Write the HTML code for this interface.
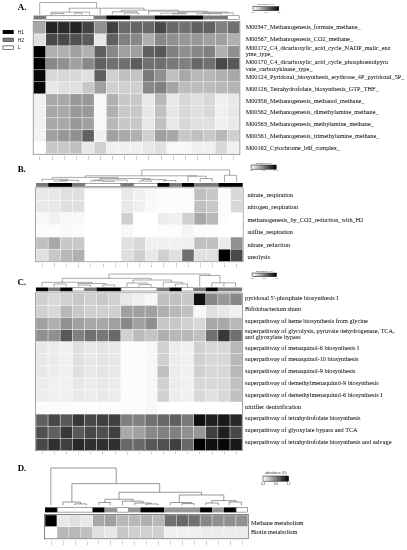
<!DOCTYPE html>
<html><head><meta charset="utf-8"><title>Figure</title>
<style>html,body{margin:0;padding:0;background:#fff}</style></head>
<body>
<svg width="407" height="550" viewBox="0 0 407 550" style="display:block">
<rect width="407" height="550" fill="#fff"/>
<rect x="33.20" y="21.40" width="206.67" height="132.80" fill="#fff" stroke="#505050" stroke-width="0.6"/>
<rect x="33.85" y="22.05" width="11.61" height="11.50" fill="#a8a8a8"/>
<rect x="45.96" y="22.05" width="11.61" height="11.50" fill="#242424"/>
<rect x="58.07" y="22.05" width="11.61" height="11.50" fill="#2c2c2c"/>
<rect x="70.18" y="22.05" width="11.61" height="11.50" fill="#242424"/>
<rect x="82.29" y="22.05" width="11.61" height="11.50" fill="#424242"/>
<rect x="94.40" y="22.05" width="11.61" height="11.50" fill="#909090"/>
<rect x="106.51" y="22.05" width="11.61" height="11.50" fill="#404040"/>
<rect x="118.62" y="22.05" width="11.61" height="11.50" fill="#6a6a6a"/>
<rect x="130.73" y="22.05" width="11.61" height="11.50" fill="#646464"/>
<rect x="142.84" y="22.05" width="11.61" height="11.50" fill="#686868"/>
<rect x="154.95" y="22.05" width="11.61" height="11.50" fill="#484848"/>
<rect x="167.06" y="22.05" width="11.61" height="11.50" fill="#686868"/>
<rect x="179.17" y="22.05" width="11.61" height="11.50" fill="#707070"/>
<rect x="191.28" y="22.05" width="11.61" height="11.50" fill="#606060"/>
<rect x="203.39" y="22.05" width="11.61" height="11.50" fill="#606060"/>
<rect x="215.50" y="22.05" width="11.61" height="11.50" fill="#808080"/>
<rect x="227.61" y="22.05" width="11.61" height="11.50" fill="#707070"/>
<rect x="33.85" y="34.05" width="11.61" height="11.50" fill="#e0e0e0"/>
<rect x="45.96" y="34.05" width="11.61" height="11.50" fill="#484848"/>
<rect x="58.07" y="34.05" width="11.61" height="11.50" fill="#484848"/>
<rect x="70.18" y="34.05" width="11.61" height="11.50" fill="#505050"/>
<rect x="82.29" y="34.05" width="11.61" height="11.50" fill="#5a5a5a"/>
<rect x="94.40" y="34.05" width="11.61" height="11.50" fill="#e8e8e8"/>
<rect x="106.51" y="34.05" width="11.61" height="11.50" fill="#606060"/>
<rect x="118.62" y="34.05" width="11.61" height="11.50" fill="#808080"/>
<rect x="130.73" y="34.05" width="11.61" height="11.50" fill="#888888"/>
<rect x="142.84" y="34.05" width="11.61" height="11.50" fill="#b0b0b0"/>
<rect x="154.95" y="34.05" width="11.61" height="11.50" fill="#888888"/>
<rect x="167.06" y="34.05" width="11.61" height="11.50" fill="#909090"/>
<rect x="179.17" y="34.05" width="11.61" height="11.50" fill="#989898"/>
<rect x="191.28" y="34.05" width="11.61" height="11.50" fill="#989898"/>
<rect x="203.39" y="34.05" width="11.61" height="11.50" fill="#a0a0a0"/>
<rect x="215.50" y="34.05" width="11.61" height="11.50" fill="#a0a0a0"/>
<rect x="227.61" y="34.05" width="11.61" height="11.50" fill="#b0b0b0"/>
<rect x="33.85" y="46.05" width="11.61" height="11.50" fill="#000000"/>
<rect x="45.96" y="46.05" width="11.61" height="11.50" fill="#b0b0b0"/>
<rect x="58.07" y="46.05" width="11.61" height="11.50" fill="#b0b0b0"/>
<rect x="70.18" y="46.05" width="11.61" height="11.50" fill="#a0a0a0"/>
<rect x="82.29" y="46.05" width="11.61" height="11.50" fill="#b0b0b0"/>
<rect x="94.40" y="46.05" width="11.61" height="11.50" fill="#606060"/>
<rect x="106.51" y="46.05" width="11.61" height="11.50" fill="#888888"/>
<rect x="118.62" y="46.05" width="11.61" height="11.50" fill="#a0a0a0"/>
<rect x="130.73" y="46.05" width="11.61" height="11.50" fill="#a0a0a0"/>
<rect x="142.84" y="46.05" width="11.61" height="11.50" fill="#606060"/>
<rect x="154.95" y="46.05" width="11.61" height="11.50" fill="#585858"/>
<rect x="167.06" y="46.05" width="11.61" height="11.50" fill="#808080"/>
<rect x="179.17" y="46.05" width="11.61" height="11.50" fill="#909090"/>
<rect x="191.28" y="46.05" width="11.61" height="11.50" fill="#888888"/>
<rect x="203.39" y="46.05" width="11.61" height="11.50" fill="#808080"/>
<rect x="215.50" y="46.05" width="11.61" height="11.50" fill="#b0b0b0"/>
<rect x="227.61" y="46.05" width="11.61" height="11.50" fill="#909090"/>
<rect x="33.85" y="58.05" width="11.61" height="11.50" fill="#000000"/>
<rect x="45.96" y="58.05" width="11.61" height="11.50" fill="#888888"/>
<rect x="58.07" y="58.05" width="11.61" height="11.50" fill="#909090"/>
<rect x="70.18" y="58.05" width="11.61" height="11.50" fill="#a0a0a0"/>
<rect x="82.29" y="58.05" width="11.61" height="11.50" fill="#888888"/>
<rect x="94.40" y="58.05" width="11.61" height="11.50" fill="#606060"/>
<rect x="106.51" y="58.05" width="11.61" height="11.50" fill="#707070"/>
<rect x="118.62" y="58.05" width="11.61" height="11.50" fill="#707070"/>
<rect x="130.73" y="58.05" width="11.61" height="11.50" fill="#5c5c5c"/>
<rect x="142.84" y="58.05" width="11.61" height="11.50" fill="#707070"/>
<rect x="154.95" y="58.05" width="11.61" height="11.50" fill="#707070"/>
<rect x="167.06" y="58.05" width="11.61" height="11.50" fill="#787878"/>
<rect x="179.17" y="58.05" width="11.61" height="11.50" fill="#808080"/>
<rect x="191.28" y="58.05" width="11.61" height="11.50" fill="#686868"/>
<rect x="203.39" y="58.05" width="11.61" height="11.50" fill="#707070"/>
<rect x="215.50" y="58.05" width="11.61" height="11.50" fill="#484848"/>
<rect x="227.61" y="58.05" width="11.61" height="11.50" fill="#585858"/>
<rect x="33.85" y="70.05" width="11.61" height="11.50" fill="#080808"/>
<rect x="45.96" y="70.05" width="11.61" height="11.50" fill="#d8d8d8"/>
<rect x="58.07" y="70.05" width="11.61" height="11.50" fill="#d8d8d8"/>
<rect x="70.18" y="70.05" width="11.61" height="11.50" fill="#d8d8d8"/>
<rect x="82.29" y="70.05" width="11.61" height="11.50" fill="#e0e0e0"/>
<rect x="94.40" y="70.05" width="11.61" height="11.50" fill="#606060"/>
<rect x="106.51" y="70.05" width="11.61" height="11.50" fill="#d0d0d0"/>
<rect x="118.62" y="70.05" width="11.61" height="11.50" fill="#c0c0c0"/>
<rect x="130.73" y="70.05" width="11.61" height="11.50" fill="#c4c4c4"/>
<rect x="142.84" y="70.05" width="11.61" height="11.50" fill="#787878"/>
<rect x="154.95" y="70.05" width="11.61" height="11.50" fill="#909090"/>
<rect x="167.06" y="70.05" width="11.61" height="11.50" fill="#c0c0c0"/>
<rect x="179.17" y="70.05" width="11.61" height="11.50" fill="#a8a8a8"/>
<rect x="191.28" y="70.05" width="11.61" height="11.50" fill="#b8b8b8"/>
<rect x="203.39" y="70.05" width="11.61" height="11.50" fill="#b8b8b8"/>
<rect x="215.50" y="70.05" width="11.61" height="11.50" fill="#b0b0b0"/>
<rect x="227.61" y="70.05" width="11.61" height="11.50" fill="#a8a8a8"/>
<rect x="33.85" y="82.05" width="11.61" height="11.50" fill="#080808"/>
<rect x="45.96" y="82.05" width="11.61" height="11.50" fill="#e8e8e8"/>
<rect x="58.07" y="82.05" width="11.61" height="11.50" fill="#e0e0e0"/>
<rect x="70.18" y="82.05" width="11.61" height="11.50" fill="#e0e0e0"/>
<rect x="82.29" y="82.05" width="11.61" height="11.50" fill="#c8c8c8"/>
<rect x="94.40" y="82.05" width="11.61" height="11.50" fill="#a0a0a0"/>
<rect x="106.51" y="82.05" width="11.61" height="11.50" fill="#d0d0d0"/>
<rect x="118.62" y="82.05" width="11.61" height="11.50" fill="#d0d0d0"/>
<rect x="130.73" y="82.05" width="11.61" height="11.50" fill="#d0d0d0"/>
<rect x="142.84" y="82.05" width="11.61" height="11.50" fill="#888888"/>
<rect x="154.95" y="82.05" width="11.61" height="11.50" fill="#808080"/>
<rect x="167.06" y="82.05" width="11.61" height="11.50" fill="#a4a4a4"/>
<rect x="179.17" y="82.05" width="11.61" height="11.50" fill="#bcbcbc"/>
<rect x="191.28" y="82.05" width="11.61" height="11.50" fill="#bcbcbc"/>
<rect x="203.39" y="82.05" width="11.61" height="11.50" fill="#bcbcbc"/>
<rect x="215.50" y="82.05" width="11.61" height="11.50" fill="#b8b8b8"/>
<rect x="227.61" y="82.05" width="11.61" height="11.50" fill="#b4b4b4"/>
<rect x="33.85" y="94.05" width="11.61" height="11.50" fill="#f0f0f0"/>
<rect x="45.96" y="94.05" width="11.61" height="11.50" fill="#a8a8a8"/>
<rect x="58.07" y="94.05" width="11.61" height="11.50" fill="#a8a8a8"/>
<rect x="70.18" y="94.05" width="11.61" height="11.50" fill="#989898"/>
<rect x="82.29" y="94.05" width="11.61" height="11.50" fill="#989898"/>
<rect x="94.40" y="94.05" width="11.61" height="11.50" fill="#f8f8f8"/>
<rect x="106.51" y="94.05" width="11.61" height="11.50" fill="#b0b0b0"/>
<rect x="118.62" y="94.05" width="11.61" height="11.50" fill="#c8c8c8"/>
<rect x="130.73" y="94.05" width="11.61" height="11.50" fill="#c8c8c8"/>
<rect x="142.84" y="94.05" width="11.61" height="11.50" fill="#e8e8e8"/>
<rect x="154.95" y="94.05" width="11.61" height="11.50" fill="#b8b8b8"/>
<rect x="167.06" y="94.05" width="11.61" height="11.50" fill="#e8e8e8"/>
<rect x="179.17" y="94.05" width="11.61" height="11.50" fill="#d8d8d8"/>
<rect x="191.28" y="94.05" width="11.61" height="11.50" fill="#e0e0e0"/>
<rect x="203.39" y="94.05" width="11.61" height="11.50" fill="#d8d8d8"/>
<rect x="215.50" y="94.05" width="11.61" height="11.50" fill="#f0f0f0"/>
<rect x="227.61" y="94.05" width="11.61" height="11.50" fill="#e8e8e8"/>
<rect x="33.85" y="106.05" width="11.61" height="11.50" fill="#f0f0f0"/>
<rect x="45.96" y="106.05" width="11.61" height="11.50" fill="#a8a8a8"/>
<rect x="58.07" y="106.05" width="11.61" height="11.50" fill="#a8a8a8"/>
<rect x="70.18" y="106.05" width="11.61" height="11.50" fill="#989898"/>
<rect x="82.29" y="106.05" width="11.61" height="11.50" fill="#989898"/>
<rect x="94.40" y="106.05" width="11.61" height="11.50" fill="#f8f8f8"/>
<rect x="106.51" y="106.05" width="11.61" height="11.50" fill="#b0b0b0"/>
<rect x="118.62" y="106.05" width="11.61" height="11.50" fill="#c8c8c8"/>
<rect x="130.73" y="106.05" width="11.61" height="11.50" fill="#c8c8c8"/>
<rect x="142.84" y="106.05" width="11.61" height="11.50" fill="#e8e8e8"/>
<rect x="154.95" y="106.05" width="11.61" height="11.50" fill="#c0c0c0"/>
<rect x="167.06" y="106.05" width="11.61" height="11.50" fill="#e8e8e8"/>
<rect x="179.17" y="106.05" width="11.61" height="11.50" fill="#d8d8d8"/>
<rect x="191.28" y="106.05" width="11.61" height="11.50" fill="#e0e0e0"/>
<rect x="203.39" y="106.05" width="11.61" height="11.50" fill="#d8d8d8"/>
<rect x="215.50" y="106.05" width="11.61" height="11.50" fill="#f0f0f0"/>
<rect x="227.61" y="106.05" width="11.61" height="11.50" fill="#e8e8e8"/>
<rect x="33.85" y="118.05" width="11.61" height="11.50" fill="#f0f0f0"/>
<rect x="45.96" y="118.05" width="11.61" height="11.50" fill="#a8a8a8"/>
<rect x="58.07" y="118.05" width="11.61" height="11.50" fill="#a8a8a8"/>
<rect x="70.18" y="118.05" width="11.61" height="11.50" fill="#989898"/>
<rect x="82.29" y="118.05" width="11.61" height="11.50" fill="#a0a0a0"/>
<rect x="94.40" y="118.05" width="11.61" height="11.50" fill="#f8f8f8"/>
<rect x="106.51" y="118.05" width="11.61" height="11.50" fill="#b8b8b8"/>
<rect x="118.62" y="118.05" width="11.61" height="11.50" fill="#c8c8c8"/>
<rect x="130.73" y="118.05" width="11.61" height="11.50" fill="#c8c8c8"/>
<rect x="142.84" y="118.05" width="11.61" height="11.50" fill="#e8e8e8"/>
<rect x="154.95" y="118.05" width="11.61" height="11.50" fill="#c0c0c0"/>
<rect x="167.06" y="118.05" width="11.61" height="11.50" fill="#e8e8e8"/>
<rect x="179.17" y="118.05" width="11.61" height="11.50" fill="#d8d8d8"/>
<rect x="191.28" y="118.05" width="11.61" height="11.50" fill="#e0e0e0"/>
<rect x="203.39" y="118.05" width="11.61" height="11.50" fill="#e0e0e0"/>
<rect x="215.50" y="118.05" width="11.61" height="11.50" fill="#f0f0f0"/>
<rect x="227.61" y="118.05" width="11.61" height="11.50" fill="#e8e8e8"/>
<rect x="33.85" y="130.05" width="11.61" height="11.50" fill="#f2f2f2"/>
<rect x="45.96" y="130.05" width="11.61" height="11.50" fill="#a0a0a0"/>
<rect x="58.07" y="130.05" width="11.61" height="11.50" fill="#989898"/>
<rect x="70.18" y="130.05" width="11.61" height="11.50" fill="#909090"/>
<rect x="82.29" y="130.05" width="11.61" height="11.50" fill="#606060"/>
<rect x="94.40" y="130.05" width="11.61" height="11.50" fill="#f0f0f0"/>
<rect x="106.51" y="130.05" width="11.61" height="11.50" fill="#a0a0a0"/>
<rect x="118.62" y="130.05" width="11.61" height="11.50" fill="#a8a8a8"/>
<rect x="130.73" y="130.05" width="11.61" height="11.50" fill="#b0b0b0"/>
<rect x="142.84" y="130.05" width="11.61" height="11.50" fill="#d0d0d0"/>
<rect x="154.95" y="130.05" width="11.61" height="11.50" fill="#a0a0a0"/>
<rect x="167.06" y="130.05" width="11.61" height="11.50" fill="#a8a8a8"/>
<rect x="179.17" y="130.05" width="11.61" height="11.50" fill="#c8c8c8"/>
<rect x="191.28" y="130.05" width="11.61" height="11.50" fill="#c0c0c0"/>
<rect x="203.39" y="130.05" width="11.61" height="11.50" fill="#c8c8c8"/>
<rect x="215.50" y="130.05" width="11.61" height="11.50" fill="#b8b8b8"/>
<rect x="227.61" y="130.05" width="11.61" height="11.50" fill="#d0d0d0"/>
<rect x="33.85" y="142.05" width="11.61" height="11.50" fill="#ffffff"/>
<rect x="45.96" y="142.05" width="11.61" height="11.50" fill="#c8c8c8"/>
<rect x="58.07" y="142.05" width="11.61" height="11.50" fill="#c8c8c8"/>
<rect x="70.18" y="142.05" width="11.61" height="11.50" fill="#c0c0c0"/>
<rect x="82.29" y="142.05" width="11.61" height="11.50" fill="#e8e8e8"/>
<rect x="94.40" y="142.05" width="11.61" height="11.50" fill="#d0d0d0"/>
<rect x="106.51" y="142.05" width="11.61" height="11.50" fill="#f0f0f0"/>
<rect x="118.62" y="142.05" width="11.61" height="11.50" fill="#f0f0f0"/>
<rect x="130.73" y="142.05" width="11.61" height="11.50" fill="#f0f0f0"/>
<rect x="142.84" y="142.05" width="11.61" height="11.50" fill="#e8e8e8"/>
<rect x="154.95" y="142.05" width="11.61" height="11.50" fill="#e0e0e0"/>
<rect x="167.06" y="142.05" width="11.61" height="11.50" fill="#f8f8f8"/>
<rect x="179.17" y="142.05" width="11.61" height="11.50" fill="#f8f8f8"/>
<rect x="191.28" y="142.05" width="11.61" height="11.50" fill="#f0f0f0"/>
<rect x="203.39" y="142.05" width="11.61" height="11.50" fill="#f0f0f0"/>
<rect x="215.50" y="142.05" width="11.61" height="11.50" fill="#d8d8d8"/>
<rect x="227.61" y="142.05" width="11.61" height="11.50" fill="#f0f0f0"/>
<rect x="33.60" y="15.50" width="12.11" height="4.00" fill="#787878"/>
<rect x="46.01" y="15.80" width="47.84" height="3.40" fill="#fff" stroke="#333" stroke-width="0.45"/>
<rect x="94.15" y="15.50" width="12.11" height="4.00" fill="#787878"/>
<rect x="106.26" y="15.50" width="24.22" height="4.00" fill="#000"/>
<rect x="130.48" y="15.50" width="24.22" height="4.00" fill="#787878"/>
<rect x="154.70" y="15.50" width="48.44" height="4.00" fill="#000"/>
<rect x="203.14" y="15.50" width="24.22" height="4.00" fill="#787878"/>
<rect x="227.66" y="15.80" width="11.51" height="3.40" fill="#fff" stroke="#333" stroke-width="0.45"/>
<text x="17.8" y="10" font-family="Liberation Serif, serif" font-weight="bold" font-size="8.9" fill="#000">A.</text>
<text x="245.7" y="29.30" font-family="Liberation Serif, serif" font-size="6.25" fill="#1a1a1a" stroke="#1a1a1a" stroke-width="0.05">M00347_Methanogenesis_formate_methane_</text>
<text x="245.7" y="40.80" font-family="Liberation Serif, serif" font-size="6.25" fill="#1a1a1a" stroke="#1a1a1a" stroke-width="0.05">M00567_Methanogenesis_CO2_methane_</text>
<text x="245.7" y="79.20" font-family="Liberation Serif, serif" font-size="6.25" fill="#1a1a1a" stroke="#1a1a1a" stroke-width="0.05">M00124_Pyridoxal_biosynthesis_erythrose_4P_pyridoxal_5P_</text>
<text x="245.7" y="90.70" font-family="Liberation Serif, serif" font-size="6.25" fill="#1a1a1a" stroke="#1a1a1a" stroke-width="0.05">M00126_Tetrahydrofolate_biosynthesis_GTP_THF_</text>
<text x="245.7" y="102.50" font-family="Liberation Serif, serif" font-size="6.25" fill="#1a1a1a" stroke="#1a1a1a" stroke-width="0.05">M00356_Methanogenesis_methanol_methane_</text>
<text x="245.7" y="114.40" font-family="Liberation Serif, serif" font-size="6.25" fill="#1a1a1a" stroke="#1a1a1a" stroke-width="0.05">M00562_Methanogenesis_dimethylamine_methane_</text>
<text x="245.7" y="126.20" font-family="Liberation Serif, serif" font-size="6.25" fill="#1a1a1a" stroke="#1a1a1a" stroke-width="0.05">M00563_Methanogenesis_methylamine_methane_</text>
<text x="245.7" y="138.00" font-family="Liberation Serif, serif" font-size="6.25" fill="#1a1a1a" stroke="#1a1a1a" stroke-width="0.05">M00561_Methanogenesis_trimethylamine_methane_</text>
<text x="245.7" y="149.80" font-family="Liberation Serif, serif" font-size="6.25" fill="#1a1a1a" stroke="#1a1a1a" stroke-width="0.05">M00162_Cytochrome_b6f_complex_</text>
<text x="245.7" y="49.60" font-family="Liberation Serif, serif" font-size="6.25" fill="#1a1a1a" stroke="#1a1a1a" stroke-width="0.05">M00172_C4_dicarboxylic_acid_cycle_NADP_malic_enz</text>
<text x="245.7" y="55.60" font-family="Liberation Serif, serif" font-size="6.25" fill="#1a1a1a" stroke="#1a1a1a" stroke-width="0.05">yme_type_</text>
<text x="245.7" y="63.80" font-family="Liberation Serif, serif" font-size="6.25" fill="#1a1a1a" stroke="#1a1a1a" stroke-width="0.05">M00170_C4_dicarboxylic_acid_cycle_phosphoenolpyru</text>
<text x="245.7" y="70.90" font-family="Liberation Serif, serif" font-size="6.25" fill="#1a1a1a" stroke="#1a1a1a" stroke-width="0.05">vate_carboxykinase_type_</text>
<rect x="2.7" y="30" width="11" height="4" fill="#000"/>
<rect x="3" y="38.1" width="10.4" height="3.4" fill="#808080" stroke="#222" stroke-width="0.6"/>
<rect x="3" y="45.9" width="10.4" height="3.4" fill="#fff" stroke="#222" stroke-width="0.6"/>
<text x="17.7" y="33.8" font-family="Liberation Sans, sans-serif" font-size="5" fill="#222">H1</text>
<text x="17.7" y="41.599999999999994" font-family="Liberation Sans, sans-serif" font-size="5" fill="#222">H2</text>
<text x="17.7" y="49.4" font-family="Liberation Sans, sans-serif" font-size="5" fill="#222">L</text>
<defs><linearGradient id="g6" x1="0" x2="1" y1="0" y2="0"><stop offset="0" stop-color="#fff"/><stop offset="1" stop-color="#000"/></linearGradient></defs>
<rect x="253" y="6.7" width="25.8" height="3.9" fill="url(#g6)" stroke="#111" stroke-width="0.5"/>
<text x="265.90" y="5.30" text-anchor="middle" font-family="Liberation Sans, sans-serif" font-size="2.5" fill="#333">abundance (%)</text>
<text x="253.00" y="12.70" text-anchor="middle" font-family="Liberation Sans, sans-serif" font-size="2.4" fill="#333">0.0</text>
<text x="265.90" y="12.70" text-anchor="middle" font-family="Liberation Sans, sans-serif" font-size="2.4" fill="#333">1.1</text>
<text x="278.80" y="12.70" text-anchor="middle" font-family="Liberation Sans, sans-serif" font-size="2.4" fill="#333">6.8</text>
<text transform="translate(40.41,155.60) rotate(-90)" text-anchor="end" font-family="Liberation Sans, sans-serif" font-size="2.3" fill="#707070">S01</text>
<text transform="translate(52.52,155.60) rotate(-90)" text-anchor="end" font-family="Liberation Sans, sans-serif" font-size="2.3" fill="#707070">S05</text>
<text transform="translate(64.62,155.60) rotate(-90)" text-anchor="end" font-family="Liberation Sans, sans-serif" font-size="2.3" fill="#707070">S06</text>
<text transform="translate(76.73,155.60) rotate(-90)" text-anchor="end" font-family="Liberation Sans, sans-serif" font-size="2.3" fill="#707070">S07</text>
<text transform="translate(88.84,155.60) rotate(-90)" text-anchor="end" font-family="Liberation Sans, sans-serif" font-size="2.3" fill="#707070">S08</text>
<text transform="translate(100.95,155.60) rotate(-90)" text-anchor="end" font-family="Liberation Sans, sans-serif" font-size="2.3" fill="#707070">S02</text>
<text transform="translate(113.06,155.60) rotate(-90)" text-anchor="end" font-family="Liberation Sans, sans-serif" font-size="2.3" fill="#707070">S11</text>
<text transform="translate(125.17,155.60) rotate(-90)" text-anchor="end" font-family="Liberation Sans, sans-serif" font-size="2.3" fill="#707070">S12</text>
<text transform="translate(137.28,155.60) rotate(-90)" text-anchor="end" font-family="Liberation Sans, sans-serif" font-size="2.3" fill="#707070">S03</text>
<text transform="translate(149.39,155.60) rotate(-90)" text-anchor="end" font-family="Liberation Sans, sans-serif" font-size="2.3" fill="#707070">S04</text>
<text transform="translate(161.50,155.60) rotate(-90)" text-anchor="end" font-family="Liberation Sans, sans-serif" font-size="2.3" fill="#707070">S13</text>
<text transform="translate(173.61,155.60) rotate(-90)" text-anchor="end" font-family="Liberation Sans, sans-serif" font-size="2.3" fill="#707070">S14</text>
<text transform="translate(185.72,155.60) rotate(-90)" text-anchor="end" font-family="Liberation Sans, sans-serif" font-size="2.3" fill="#707070">S15</text>
<text transform="translate(197.83,155.60) rotate(-90)" text-anchor="end" font-family="Liberation Sans, sans-serif" font-size="2.3" fill="#707070">S16</text>
<text transform="translate(209.94,155.60) rotate(-90)" text-anchor="end" font-family="Liberation Sans, sans-serif" font-size="2.3" fill="#707070">S09</text>
<text transform="translate(222.05,155.60) rotate(-90)" text-anchor="end" font-family="Liberation Sans, sans-serif" font-size="2.3" fill="#707070">S10</text>
<text transform="translate(234.16,155.60) rotate(-90)" text-anchor="end" font-family="Liberation Sans, sans-serif" font-size="2.3" fill="#707070">S17</text>
<path d="M39.7 14.7L39.7 2.5M39.7 2.5L96.6 2.5M96.6 2.5L96.6 8.2M69.3 8.2L144.0 8.2M69.3 8.2L69.3 12.2M51.0 12.2L89.5 12.2M51.0 12.2L51.0 14.7M89.5 12.2L89.5 14.7M51.8 13.6L63.9 13.6M51.8 13.6L51.8 14.7M63.9 13.6L63.9 14.7M75.0 13.0L82.0 13.0M75.0 13.0L75.0 14.7M82.0 13.0L82.0 14.7M100.2 8.4L100.2 14.7M144.0 8.2L144.0 10.2M121.4 10.2L178.0 10.2M121.4 10.2L121.4 11.8M112.3 11.8L137.0 11.8M112.3 11.8L112.3 14.7M137.0 11.8L137.0 13.0M124.4 13.0L138.5 13.0M124.4 13.0L124.4 14.7M138.5 13.0L138.5 14.7M178.0 10.2L178.0 11.2M148.6 11.2L207.0 11.2M148.6 11.2L148.6 14.7M207.0 11.2L207.0 12.1M178.0 12.1L228.0 12.1M178.0 12.1L178.0 13.1M160.8 13.1L187.0 13.1M160.8 13.1L160.8 14.7M187.0 13.1L187.0 13.8M172.9 13.8L185.0 13.8M172.9 13.8L172.9 14.7M185.0 13.8L185.0 14.7M228.0 12.1L228.0 12.9M203.1 12.9L233.4 12.9M233.4 12.9L233.4 14.7M203.1 12.9L203.1 13.6M197.1 13.6L221.3 13.6M197.1 13.6L197.1 14.7M221.3 13.6L221.3 14.7M209.2 13.9L209.2 14.7" stroke="#555" stroke-width="0.5" fill="none"/>
<rect x="35.60" y="187.90" width="207.52" height="73.88" fill="#fff" stroke="#6a6a6a" stroke-width="0.6"/>
<rect x="36.25" y="188.55" width="11.66" height="11.68" fill="#e8e8e8"/>
<rect x="48.41" y="188.55" width="11.66" height="11.68" fill="#e8e8e8"/>
<rect x="60.57" y="188.55" width="11.66" height="11.68" fill="#e0e0e0"/>
<rect x="72.73" y="188.55" width="11.66" height="11.68" fill="#e0e0e0"/>
<rect x="84.89" y="188.55" width="11.66" height="11.68" fill="#ffffff"/>
<rect x="97.05" y="188.55" width="11.66" height="11.68" fill="#ffffff"/>
<rect x="109.21" y="188.55" width="11.66" height="11.68" fill="#ffffff"/>
<rect x="121.37" y="188.55" width="11.66" height="11.68" fill="#e8e8e8"/>
<rect x="133.53" y="188.55" width="11.66" height="11.68" fill="#f0f0f0"/>
<rect x="145.69" y="188.55" width="11.66" height="11.68" fill="#f8f8f8"/>
<rect x="157.85" y="188.55" width="11.66" height="11.68" fill="#fcfcfc"/>
<rect x="170.01" y="188.55" width="11.66" height="11.68" fill="#fcfcfc"/>
<rect x="182.17" y="188.55" width="11.66" height="11.68" fill="#fcfcfc"/>
<rect x="194.33" y="188.55" width="11.66" height="11.68" fill="#c0c0c0"/>
<rect x="206.49" y="188.55" width="11.66" height="11.68" fill="#c8c8c8"/>
<rect x="218.65" y="188.55" width="11.66" height="11.68" fill="#fcfcfc"/>
<rect x="230.81" y="188.55" width="11.66" height="11.68" fill="#d8d8d8"/>
<rect x="36.25" y="200.73" width="11.66" height="11.68" fill="#e8e8e8"/>
<rect x="48.41" y="200.73" width="11.66" height="11.68" fill="#e8e8e8"/>
<rect x="60.57" y="200.73" width="11.66" height="11.68" fill="#e0e0e0"/>
<rect x="72.73" y="200.73" width="11.66" height="11.68" fill="#e0e0e0"/>
<rect x="84.89" y="200.73" width="11.66" height="11.68" fill="#ffffff"/>
<rect x="97.05" y="200.73" width="11.66" height="11.68" fill="#ffffff"/>
<rect x="109.21" y="200.73" width="11.66" height="11.68" fill="#ffffff"/>
<rect x="121.37" y="200.73" width="11.66" height="11.68" fill="#e8e8e8"/>
<rect x="133.53" y="200.73" width="11.66" height="11.68" fill="#f0f0f0"/>
<rect x="145.69" y="200.73" width="11.66" height="11.68" fill="#f8f8f8"/>
<rect x="157.85" y="200.73" width="11.66" height="11.68" fill="#fcfcfc"/>
<rect x="170.01" y="200.73" width="11.66" height="11.68" fill="#fcfcfc"/>
<rect x="182.17" y="200.73" width="11.66" height="11.68" fill="#fcfcfc"/>
<rect x="194.33" y="200.73" width="11.66" height="11.68" fill="#c0c0c0"/>
<rect x="206.49" y="200.73" width="11.66" height="11.68" fill="#c8c8c8"/>
<rect x="218.65" y="200.73" width="11.66" height="11.68" fill="#fcfcfc"/>
<rect x="230.81" y="200.73" width="11.66" height="11.68" fill="#d8d8d8"/>
<rect x="36.25" y="212.91" width="11.66" height="11.68" fill="#f8f8f8"/>
<rect x="48.41" y="212.91" width="11.66" height="11.68" fill="#f0f0f0"/>
<rect x="60.57" y="212.91" width="11.66" height="11.68" fill="#f8f8f8"/>
<rect x="72.73" y="212.91" width="11.66" height="11.68" fill="#f8f8f8"/>
<rect x="84.89" y="212.91" width="11.66" height="11.68" fill="#ffffff"/>
<rect x="97.05" y="212.91" width="11.66" height="11.68" fill="#ffffff"/>
<rect x="109.21" y="212.91" width="11.66" height="11.68" fill="#ffffff"/>
<rect x="121.37" y="212.91" width="11.66" height="11.68" fill="#d0d0d0"/>
<rect x="133.53" y="212.91" width="11.66" height="11.68" fill="#ffffff"/>
<rect x="145.69" y="212.91" width="11.66" height="11.68" fill="#ffffff"/>
<rect x="157.85" y="212.91" width="11.66" height="11.68" fill="#ececec"/>
<rect x="170.01" y="212.91" width="11.66" height="11.68" fill="#f0f0f0"/>
<rect x="182.17" y="212.91" width="11.66" height="11.68" fill="#d0d0d0"/>
<rect x="194.33" y="212.91" width="11.66" height="11.68" fill="#a8a8a8"/>
<rect x="206.49" y="212.91" width="11.66" height="11.68" fill="#b8b8b8"/>
<rect x="218.65" y="212.91" width="11.66" height="11.68" fill="#fcfcfc"/>
<rect x="230.81" y="212.91" width="11.66" height="11.68" fill="#ffffff"/>
<rect x="36.25" y="225.09" width="11.66" height="11.68" fill="#fcfcfc"/>
<rect x="48.41" y="225.09" width="11.66" height="11.68" fill="#fcfcfc"/>
<rect x="60.57" y="225.09" width="11.66" height="11.68" fill="#f8f8f8"/>
<rect x="72.73" y="225.09" width="11.66" height="11.68" fill="#fcfcfc"/>
<rect x="84.89" y="225.09" width="11.66" height="11.68" fill="#ffffff"/>
<rect x="97.05" y="225.09" width="11.66" height="11.68" fill="#ffffff"/>
<rect x="109.21" y="225.09" width="11.66" height="11.68" fill="#ffffff"/>
<rect x="121.37" y="225.09" width="11.66" height="11.68" fill="#f8f8f8"/>
<rect x="133.53" y="225.09" width="11.66" height="11.68" fill="#ffffff"/>
<rect x="145.69" y="225.09" width="11.66" height="11.68" fill="#ffffff"/>
<rect x="157.85" y="225.09" width="11.66" height="11.68" fill="#fcfcfc"/>
<rect x="170.01" y="225.09" width="11.66" height="11.68" fill="#fcfcfc"/>
<rect x="182.17" y="225.09" width="11.66" height="11.68" fill="#f4f4f4"/>
<rect x="194.33" y="225.09" width="11.66" height="11.68" fill="#fcfcfc"/>
<rect x="206.49" y="225.09" width="11.66" height="11.68" fill="#fcfcfc"/>
<rect x="218.65" y="225.09" width="11.66" height="11.68" fill="#ffffff"/>
<rect x="230.81" y="225.09" width="11.66" height="11.68" fill="#ffffff"/>
<rect x="36.25" y="237.27" width="11.66" height="11.68" fill="#c0c0c0"/>
<rect x="48.41" y="237.27" width="11.66" height="11.68" fill="#a8a8a8"/>
<rect x="60.57" y="237.27" width="11.66" height="11.68" fill="#c8c8c8"/>
<rect x="72.73" y="237.27" width="11.66" height="11.68" fill="#c8c8c8"/>
<rect x="84.89" y="237.27" width="11.66" height="11.68" fill="#ffffff"/>
<rect x="97.05" y="237.27" width="11.66" height="11.68" fill="#ffffff"/>
<rect x="109.21" y="237.27" width="11.66" height="11.68" fill="#ffffff"/>
<rect x="121.37" y="237.27" width="11.66" height="11.68" fill="#e0e0e0"/>
<rect x="133.53" y="237.27" width="11.66" height="11.68" fill="#d8d8d8"/>
<rect x="145.69" y="237.27" width="11.66" height="11.68" fill="#f0f0f0"/>
<rect x="157.85" y="237.27" width="11.66" height="11.68" fill="#f0f0f0"/>
<rect x="170.01" y="237.27" width="11.66" height="11.68" fill="#f0f0f0"/>
<rect x="182.17" y="237.27" width="11.66" height="11.68" fill="#f0f0f0"/>
<rect x="194.33" y="237.27" width="11.66" height="11.68" fill="#c0c0c0"/>
<rect x="206.49" y="237.27" width="11.66" height="11.68" fill="#c0c0c0"/>
<rect x="218.65" y="237.27" width="11.66" height="11.68" fill="#ececec"/>
<rect x="230.81" y="237.27" width="11.66" height="11.68" fill="#909090"/>
<rect x="36.25" y="249.45" width="11.66" height="11.68" fill="#e0e0e0"/>
<rect x="48.41" y="249.45" width="11.66" height="11.68" fill="#c8c8c8"/>
<rect x="60.57" y="249.45" width="11.66" height="11.68" fill="#b8b8b8"/>
<rect x="72.73" y="249.45" width="11.66" height="11.68" fill="#b0b0b0"/>
<rect x="84.89" y="249.45" width="11.66" height="11.68" fill="#ffffff"/>
<rect x="97.05" y="249.45" width="11.66" height="11.68" fill="#ffffff"/>
<rect x="109.21" y="249.45" width="11.66" height="11.68" fill="#ffffff"/>
<rect x="121.37" y="249.45" width="11.66" height="11.68" fill="#e0e0e0"/>
<rect x="133.53" y="249.45" width="11.66" height="11.68" fill="#d0d0d0"/>
<rect x="145.69" y="249.45" width="11.66" height="11.68" fill="#e8e8e8"/>
<rect x="157.85" y="249.45" width="11.66" height="11.68" fill="#d0d0d0"/>
<rect x="170.01" y="249.45" width="11.66" height="11.68" fill="#e0e0e0"/>
<rect x="182.17" y="249.45" width="11.66" height="11.68" fill="#707070"/>
<rect x="194.33" y="249.45" width="11.66" height="11.68" fill="#e0e0e0"/>
<rect x="206.49" y="249.45" width="11.66" height="11.68" fill="#e0e0e0"/>
<rect x="218.65" y="249.45" width="11.66" height="11.68" fill="#000000"/>
<rect x="230.81" y="249.45" width="11.66" height="11.68" fill="#484848"/>
<rect x="36.00" y="183.00" width="12.16" height="3.80" fill="#787878"/>
<rect x="48.16" y="183.00" width="24.32" height="3.80" fill="#000"/>
<rect x="72.48" y="183.00" width="12.16" height="3.80" fill="#787878"/>
<rect x="84.94" y="183.30" width="35.88" height="3.20" fill="#fff" stroke="#333" stroke-width="0.45"/>
<rect x="121.12" y="183.00" width="12.16" height="3.80" fill="#787878"/>
<rect x="133.58" y="183.30" width="23.72" height="3.20" fill="#fff" stroke="#333" stroke-width="0.45"/>
<rect x="157.60" y="183.00" width="12.16" height="3.80" fill="#000"/>
<rect x="169.76" y="183.00" width="12.16" height="3.80" fill="#787878"/>
<rect x="181.92" y="183.00" width="12.16" height="3.80" fill="#000"/>
<rect x="194.08" y="183.00" width="24.32" height="3.80" fill="#787878"/>
<rect x="218.40" y="183.00" width="24.32" height="3.80" fill="#000"/>
<text x="17.7" y="171.7" font-family="Liberation Serif, serif" font-weight="bold" font-size="8.9" fill="#000">B.</text>
<text x="247.4" y="196.70" font-family="Liberation Serif, serif" font-size="6.25" fill="#1a1a1a" stroke="#1a1a1a" stroke-width="0.05">nitrate_respiration</text>
<text x="247.4" y="209.00" font-family="Liberation Serif, serif" font-size="6.25" fill="#1a1a1a" stroke="#1a1a1a" stroke-width="0.05">nitrogen_respiration</text>
<text x="247.4" y="221.50" font-family="Liberation Serif, serif" font-size="6.25" fill="#1a1a1a" stroke="#1a1a1a" stroke-width="0.05">methanogenesis_by_CO2_reduction_with_H2</text>
<text x="247.4" y="234.00" font-family="Liberation Serif, serif" font-size="6.25" fill="#1a1a1a" stroke="#1a1a1a" stroke-width="0.05">sulfite_respiration</text>
<text x="247.4" y="246.60" font-family="Liberation Serif, serif" font-size="6.25" fill="#1a1a1a" stroke="#1a1a1a" stroke-width="0.05">nitrate_reduction</text>
<text x="247.4" y="259.10" font-family="Liberation Serif, serif" font-size="6.25" fill="#1a1a1a" stroke="#1a1a1a" stroke-width="0.05">ureolysis</text>
<defs><linearGradient id="g165" x1="0" x2="1" y1="0" y2="0"><stop offset="0" stop-color="#fff"/><stop offset="1" stop-color="#000"/></linearGradient></defs>
<rect x="251.1" y="165" width="25.1" height="4.2" fill="url(#g165)" stroke="#111" stroke-width="0.5"/>
<text x="263.65" y="163.60" text-anchor="middle" font-family="Liberation Sans, sans-serif" font-size="2.5" fill="#333">abundance (%)</text>
<text x="251.10" y="171.30" text-anchor="middle" font-family="Liberation Sans, sans-serif" font-size="2.4" fill="#333">0.0</text>
<text x="263.65" y="171.30" text-anchor="middle" font-family="Liberation Sans, sans-serif" font-size="2.4" fill="#333">1.1</text>
<text x="276.20" y="171.30" text-anchor="middle" font-family="Liberation Sans, sans-serif" font-size="2.4" fill="#333">14.0</text>
<text transform="translate(42.83,263.10) rotate(-90)" text-anchor="end" font-family="Liberation Sans, sans-serif" font-size="2.3" fill="#707070">S09</text>
<text transform="translate(54.99,263.10) rotate(-90)" text-anchor="end" font-family="Liberation Sans, sans-serif" font-size="2.3" fill="#707070">S11</text>
<text transform="translate(67.15,263.10) rotate(-90)" text-anchor="end" font-family="Liberation Sans, sans-serif" font-size="2.3" fill="#707070">S12</text>
<text transform="translate(79.31,263.10) rotate(-90)" text-anchor="end" font-family="Liberation Sans, sans-serif" font-size="2.3" fill="#707070">S10</text>
<text transform="translate(91.47,263.10) rotate(-90)" text-anchor="end" font-family="Liberation Sans, sans-serif" font-size="2.3" fill="#707070">S05</text>
<text transform="translate(103.63,263.10) rotate(-90)" text-anchor="end" font-family="Liberation Sans, sans-serif" font-size="2.3" fill="#707070">S06</text>
<text transform="translate(115.79,263.10) rotate(-90)" text-anchor="end" font-family="Liberation Sans, sans-serif" font-size="2.3" fill="#707070">S07</text>
<text transform="translate(127.95,263.10) rotate(-90)" text-anchor="end" font-family="Liberation Sans, sans-serif" font-size="2.3" fill="#707070">S02</text>
<text transform="translate(140.11,263.10) rotate(-90)" text-anchor="end" font-family="Liberation Sans, sans-serif" font-size="2.3" fill="#707070">S08</text>
<text transform="translate(152.27,263.10) rotate(-90)" text-anchor="end" font-family="Liberation Sans, sans-serif" font-size="2.3" fill="#707070">S17</text>
<text transform="translate(164.43,263.10) rotate(-90)" text-anchor="end" font-family="Liberation Sans, sans-serif" font-size="2.3" fill="#707070">S13</text>
<text transform="translate(176.59,263.10) rotate(-90)" text-anchor="end" font-family="Liberation Sans, sans-serif" font-size="2.3" fill="#707070">S03</text>
<text transform="translate(188.75,263.10) rotate(-90)" text-anchor="end" font-family="Liberation Sans, sans-serif" font-size="2.3" fill="#707070">S14</text>
<text transform="translate(200.91,263.10) rotate(-90)" text-anchor="end" font-family="Liberation Sans, sans-serif" font-size="2.3" fill="#707070">S04</text>
<text transform="translate(213.07,263.10) rotate(-90)" text-anchor="end" font-family="Liberation Sans, sans-serif" font-size="2.3" fill="#707070">S01</text>
<text transform="translate(225.23,263.10) rotate(-90)" text-anchor="end" font-family="Liberation Sans, sans-serif" font-size="2.3" fill="#707070">S15</text>
<text transform="translate(237.39,263.10) rotate(-90)" text-anchor="end" font-family="Liberation Sans, sans-serif" font-size="2.3" fill="#707070">S16</text>
<path d="M141.8 169.9L229.6 169.9M141.8 169.9L141.8 175.8M229.6 169.9L229.6 175.3M224.5 175.3L236.6 175.3M224.5 175.3L224.5 182.0M236.6 175.3L236.6 182.0M85.4 175.8L197.0 175.8M85.4 175.8L85.4 177.4M197.0 175.8L197.0 176.2M188.0 176.2L206.0 176.2M188.0 176.2L188.0 182.0M206.0 176.2L206.0 178.5M200.2 178.5L212.3 178.5M200.2 178.5L200.2 182.0M212.3 178.5L212.3 182.0M52.4 177.4L118.0 177.4M52.4 177.4L52.4 179.3M118.0 177.4L118.0 178.5M42.1 179.3L68.0 179.3M42.1 179.3L42.1 182.0M68.0 179.3L68.0 180.3M60.0 180.3L78.6 180.3M78.6 180.3L78.6 182.0M60.0 180.3L60.0 181.1M54.2 181.1L66.4 181.1M54.2 181.1L54.2 182.0M66.4 181.1L66.4 182.0M100.0 178.5L150.0 178.5M100.0 178.5L100.0 180.0M150.0 178.5L150.0 179.6M94.0 180.0L127.2 180.0M127.2 180.0L127.2 182.0M94.0 180.0L94.0 180.8M90.7 180.8L103.0 180.8M90.7 180.8L90.7 182.0M103.0 180.8L103.0 181.4M102.9 181.4L115.0 181.4M142.0 179.6L166.0 179.6M142.0 179.6L142.0 181.0M139.4 181.0L151.5 181.0M139.4 181.0L139.4 182.0M151.5 181.0L151.5 182.0M166.0 179.6L166.0 180.6M163.7 180.6L175.8 180.6M163.7 180.6L163.7 182.0M175.8 180.6L175.8 182.0" stroke="#555" stroke-width="0.5" fill="none"/>
<rect x="35.50" y="292.90" width="207.01" height="157.84" fill="#fff" stroke="#6a6a6a" stroke-width="0.6"/>
<rect x="36.15" y="293.55" width="11.63" height="11.58" fill="#d0d0d0"/>
<rect x="48.28" y="293.55" width="11.63" height="11.58" fill="#d8d8d8"/>
<rect x="60.41" y="293.55" width="11.63" height="11.58" fill="#d0d0d0"/>
<rect x="72.54" y="293.55" width="11.63" height="11.58" fill="#c8c8c8"/>
<rect x="84.67" y="293.55" width="11.63" height="11.58" fill="#d0d0d0"/>
<rect x="96.80" y="293.55" width="11.63" height="11.58" fill="#c8c8c8"/>
<rect x="108.93" y="293.55" width="11.63" height="11.58" fill="#d0d0d0"/>
<rect x="121.06" y="293.55" width="11.63" height="11.58" fill="#e8e8e8"/>
<rect x="133.19" y="293.55" width="11.63" height="11.58" fill="#f0f0f0"/>
<rect x="145.32" y="293.55" width="11.63" height="11.58" fill="#f8f8f8"/>
<rect x="157.45" y="293.55" width="11.63" height="11.58" fill="#c0c0c0"/>
<rect x="169.58" y="293.55" width="11.63" height="11.58" fill="#c0c0c0"/>
<rect x="181.71" y="293.55" width="11.63" height="11.58" fill="#c8c8c8"/>
<rect x="193.84" y="293.55" width="11.63" height="11.58" fill="#101010"/>
<rect x="205.97" y="293.55" width="11.63" height="11.58" fill="#888888"/>
<rect x="218.10" y="293.55" width="11.63" height="11.58" fill="#989898"/>
<rect x="230.23" y="293.55" width="11.63" height="11.58" fill="#888888"/>
<rect x="36.15" y="305.63" width="11.63" height="11.58" fill="#d0d0d0"/>
<rect x="48.28" y="305.63" width="11.63" height="11.58" fill="#d8d8d8"/>
<rect x="60.41" y="305.63" width="11.63" height="11.58" fill="#b8b8b8"/>
<rect x="72.54" y="305.63" width="11.63" height="11.58" fill="#c8c8c8"/>
<rect x="84.67" y="305.63" width="11.63" height="11.58" fill="#d0d0d0"/>
<rect x="96.80" y="305.63" width="11.63" height="11.58" fill="#d0d0d0"/>
<rect x="108.93" y="305.63" width="11.63" height="11.58" fill="#d0d0d0"/>
<rect x="121.06" y="305.63" width="11.63" height="11.58" fill="#a0a0a0"/>
<rect x="133.19" y="305.63" width="11.63" height="11.58" fill="#a0a0a0"/>
<rect x="145.32" y="305.63" width="11.63" height="11.58" fill="#a0a0a0"/>
<rect x="157.45" y="305.63" width="11.63" height="11.58" fill="#b0b0b0"/>
<rect x="169.58" y="305.63" width="11.63" height="11.58" fill="#b8b8b8"/>
<rect x="181.71" y="305.63" width="11.63" height="11.58" fill="#c0c0c0"/>
<rect x="193.84" y="305.63" width="11.63" height="11.58" fill="#f8f8f8"/>
<rect x="205.97" y="305.63" width="11.63" height="11.58" fill="#e0e0e0"/>
<rect x="218.10" y="305.63" width="11.63" height="11.58" fill="#e8e8e8"/>
<rect x="230.23" y="305.63" width="11.63" height="11.58" fill="#f0f0f0"/>
<rect x="36.15" y="317.71" width="11.63" height="11.58" fill="#a0a0a0"/>
<rect x="48.28" y="317.71" width="11.63" height="11.58" fill="#b0b0b0"/>
<rect x="60.41" y="317.71" width="11.63" height="11.58" fill="#909090"/>
<rect x="72.54" y="317.71" width="11.63" height="11.58" fill="#a0a0a0"/>
<rect x="84.67" y="317.71" width="11.63" height="11.58" fill="#a8a8a8"/>
<rect x="96.80" y="317.71" width="11.63" height="11.58" fill="#a8a8a8"/>
<rect x="108.93" y="317.71" width="11.63" height="11.58" fill="#a0a0a0"/>
<rect x="121.06" y="317.71" width="11.63" height="11.58" fill="#888888"/>
<rect x="133.19" y="317.71" width="11.63" height="11.58" fill="#a0a0a0"/>
<rect x="145.32" y="317.71" width="11.63" height="11.58" fill="#909090"/>
<rect x="157.45" y="317.71" width="11.63" height="11.58" fill="#c8c8c8"/>
<rect x="169.58" y="317.71" width="11.63" height="11.58" fill="#c8c8c8"/>
<rect x="181.71" y="317.71" width="11.63" height="11.58" fill="#d0d0d0"/>
<rect x="193.84" y="317.71" width="11.63" height="11.58" fill="#d8d8d8"/>
<rect x="205.97" y="317.71" width="11.63" height="11.58" fill="#a8a8a8"/>
<rect x="218.10" y="317.71" width="11.63" height="11.58" fill="#a8a8a8"/>
<rect x="230.23" y="317.71" width="11.63" height="11.58" fill="#b8b8b8"/>
<rect x="36.15" y="329.79" width="11.63" height="11.58" fill="#909090"/>
<rect x="48.28" y="329.79" width="11.63" height="11.58" fill="#909090"/>
<rect x="60.41" y="329.79" width="11.63" height="11.58" fill="#585858"/>
<rect x="72.54" y="329.79" width="11.63" height="11.58" fill="#808080"/>
<rect x="84.67" y="329.79" width="11.63" height="11.58" fill="#707070"/>
<rect x="96.80" y="329.79" width="11.63" height="11.58" fill="#787878"/>
<rect x="108.93" y="329.79" width="11.63" height="11.58" fill="#686868"/>
<rect x="121.06" y="329.79" width="11.63" height="11.58" fill="#d0d0d0"/>
<rect x="133.19" y="329.79" width="11.63" height="11.58" fill="#bcbcbc"/>
<rect x="145.32" y="329.79" width="11.63" height="11.58" fill="#c4c4c4"/>
<rect x="157.45" y="329.79" width="11.63" height="11.58" fill="#b0b0b0"/>
<rect x="169.58" y="329.79" width="11.63" height="11.58" fill="#b8b8b8"/>
<rect x="181.71" y="329.79" width="11.63" height="11.58" fill="#b8b8b8"/>
<rect x="193.84" y="329.79" width="11.63" height="11.58" fill="#c0c0c0"/>
<rect x="205.97" y="329.79" width="11.63" height="11.58" fill="#707070"/>
<rect x="218.10" y="329.79" width="11.63" height="11.58" fill="#383838"/>
<rect x="230.23" y="329.79" width="11.63" height="11.58" fill="#707070"/>
<rect x="36.15" y="341.87" width="11.63" height="11.58" fill="#e8e8e8"/>
<rect x="48.28" y="341.87" width="11.63" height="11.58" fill="#ececec"/>
<rect x="60.41" y="341.87" width="11.63" height="11.58" fill="#f0f0f0"/>
<rect x="72.54" y="341.87" width="11.63" height="11.58" fill="#e0e0e0"/>
<rect x="84.67" y="341.87" width="11.63" height="11.58" fill="#e8e8e8"/>
<rect x="96.80" y="341.87" width="11.63" height="11.58" fill="#e4e4e4"/>
<rect x="108.93" y="341.87" width="11.63" height="11.58" fill="#e8e8e8"/>
<rect x="121.06" y="341.87" width="11.63" height="11.58" fill="#fcfcfc"/>
<rect x="133.19" y="341.87" width="11.63" height="11.58" fill="#fcfcfc"/>
<rect x="145.32" y="341.87" width="11.63" height="11.58" fill="#f8f8f8"/>
<rect x="157.45" y="341.87" width="11.63" height="11.58" fill="#d0d0d0"/>
<rect x="169.58" y="341.87" width="11.63" height="11.58" fill="#ececec"/>
<rect x="181.71" y="341.87" width="11.63" height="11.58" fill="#f0f0f0"/>
<rect x="193.84" y="341.87" width="11.63" height="11.58" fill="#d0d0d0"/>
<rect x="205.97" y="341.87" width="11.63" height="11.58" fill="#d8d8d8"/>
<rect x="218.10" y="341.87" width="11.63" height="11.58" fill="#d8d8d8"/>
<rect x="230.23" y="341.87" width="11.63" height="11.58" fill="#b8b8b8"/>
<rect x="36.15" y="353.95" width="11.63" height="11.58" fill="#e8e8e8"/>
<rect x="48.28" y="353.95" width="11.63" height="11.58" fill="#ececec"/>
<rect x="60.41" y="353.95" width="11.63" height="11.58" fill="#f0f0f0"/>
<rect x="72.54" y="353.95" width="11.63" height="11.58" fill="#e0e0e0"/>
<rect x="84.67" y="353.95" width="11.63" height="11.58" fill="#e8e8e8"/>
<rect x="96.80" y="353.95" width="11.63" height="11.58" fill="#e4e4e4"/>
<rect x="108.93" y="353.95" width="11.63" height="11.58" fill="#e8e8e8"/>
<rect x="121.06" y="353.95" width="11.63" height="11.58" fill="#fcfcfc"/>
<rect x="133.19" y="353.95" width="11.63" height="11.58" fill="#fcfcfc"/>
<rect x="145.32" y="353.95" width="11.63" height="11.58" fill="#f8f8f8"/>
<rect x="157.45" y="353.95" width="11.63" height="11.58" fill="#d0d0d0"/>
<rect x="169.58" y="353.95" width="11.63" height="11.58" fill="#ececec"/>
<rect x="181.71" y="353.95" width="11.63" height="11.58" fill="#f0f0f0"/>
<rect x="193.84" y="353.95" width="11.63" height="11.58" fill="#d0d0d0"/>
<rect x="205.97" y="353.95" width="11.63" height="11.58" fill="#d8d8d8"/>
<rect x="218.10" y="353.95" width="11.63" height="11.58" fill="#d8d8d8"/>
<rect x="230.23" y="353.95" width="11.63" height="11.58" fill="#b8b8b8"/>
<rect x="36.15" y="366.03" width="11.63" height="11.58" fill="#e8e8e8"/>
<rect x="48.28" y="366.03" width="11.63" height="11.58" fill="#ececec"/>
<rect x="60.41" y="366.03" width="11.63" height="11.58" fill="#f0f0f0"/>
<rect x="72.54" y="366.03" width="11.63" height="11.58" fill="#e0e0e0"/>
<rect x="84.67" y="366.03" width="11.63" height="11.58" fill="#e8e8e8"/>
<rect x="96.80" y="366.03" width="11.63" height="11.58" fill="#e4e4e4"/>
<rect x="108.93" y="366.03" width="11.63" height="11.58" fill="#e8e8e8"/>
<rect x="121.06" y="366.03" width="11.63" height="11.58" fill="#fcfcfc"/>
<rect x="133.19" y="366.03" width="11.63" height="11.58" fill="#fcfcfc"/>
<rect x="145.32" y="366.03" width="11.63" height="11.58" fill="#f8f8f8"/>
<rect x="157.45" y="366.03" width="11.63" height="11.58" fill="#c0c0c0"/>
<rect x="169.58" y="366.03" width="11.63" height="11.58" fill="#ececec"/>
<rect x="181.71" y="366.03" width="11.63" height="11.58" fill="#f0f0f0"/>
<rect x="193.84" y="366.03" width="11.63" height="11.58" fill="#d0d0d0"/>
<rect x="205.97" y="366.03" width="11.63" height="11.58" fill="#d8d8d8"/>
<rect x="218.10" y="366.03" width="11.63" height="11.58" fill="#d8d8d8"/>
<rect x="230.23" y="366.03" width="11.63" height="11.58" fill="#b8b8b8"/>
<rect x="36.15" y="378.11" width="11.63" height="11.58" fill="#ececec"/>
<rect x="48.28" y="378.11" width="11.63" height="11.58" fill="#f0f0f0"/>
<rect x="60.41" y="378.11" width="11.63" height="11.58" fill="#f0f0f0"/>
<rect x="72.54" y="378.11" width="11.63" height="11.58" fill="#e8e8e8"/>
<rect x="84.67" y="378.11" width="11.63" height="11.58" fill="#ececec"/>
<rect x="96.80" y="378.11" width="11.63" height="11.58" fill="#e8e8e8"/>
<rect x="108.93" y="378.11" width="11.63" height="11.58" fill="#ececec"/>
<rect x="121.06" y="378.11" width="11.63" height="11.58" fill="#fcfcfc"/>
<rect x="133.19" y="378.11" width="11.63" height="11.58" fill="#fcfcfc"/>
<rect x="145.32" y="378.11" width="11.63" height="11.58" fill="#f8f8f8"/>
<rect x="157.45" y="378.11" width="11.63" height="11.58" fill="#d0d0d0"/>
<rect x="169.58" y="378.11" width="11.63" height="11.58" fill="#ececec"/>
<rect x="181.71" y="378.11" width="11.63" height="11.58" fill="#f0f0f0"/>
<rect x="193.84" y="378.11" width="11.63" height="11.58" fill="#d8d8d8"/>
<rect x="205.97" y="378.11" width="11.63" height="11.58" fill="#d8d8d8"/>
<rect x="218.10" y="378.11" width="11.63" height="11.58" fill="#d8d8d8"/>
<rect x="230.23" y="378.11" width="11.63" height="11.58" fill="#c0c0c0"/>
<rect x="36.15" y="390.19" width="11.63" height="11.58" fill="#ececec"/>
<rect x="48.28" y="390.19" width="11.63" height="11.58" fill="#f0f0f0"/>
<rect x="60.41" y="390.19" width="11.63" height="11.58" fill="#f0f0f0"/>
<rect x="72.54" y="390.19" width="11.63" height="11.58" fill="#e8e8e8"/>
<rect x="84.67" y="390.19" width="11.63" height="11.58" fill="#ececec"/>
<rect x="96.80" y="390.19" width="11.63" height="11.58" fill="#e8e8e8"/>
<rect x="108.93" y="390.19" width="11.63" height="11.58" fill="#ececec"/>
<rect x="121.06" y="390.19" width="11.63" height="11.58" fill="#fcfcfc"/>
<rect x="133.19" y="390.19" width="11.63" height="11.58" fill="#fcfcfc"/>
<rect x="145.32" y="390.19" width="11.63" height="11.58" fill="#f8f8f8"/>
<rect x="157.45" y="390.19" width="11.63" height="11.58" fill="#d0d0d0"/>
<rect x="169.58" y="390.19" width="11.63" height="11.58" fill="#ececec"/>
<rect x="181.71" y="390.19" width="11.63" height="11.58" fill="#f0f0f0"/>
<rect x="193.84" y="390.19" width="11.63" height="11.58" fill="#d8d8d8"/>
<rect x="205.97" y="390.19" width="11.63" height="11.58" fill="#e0e0e0"/>
<rect x="218.10" y="390.19" width="11.63" height="11.58" fill="#d8d8d8"/>
<rect x="230.23" y="390.19" width="11.63" height="11.58" fill="#c0c0c0"/>
<rect x="36.15" y="402.27" width="11.63" height="11.58" fill="#fcfcfc"/>
<rect x="48.28" y="402.27" width="11.63" height="11.58" fill="#fcfcfc"/>
<rect x="60.41" y="402.27" width="11.63" height="11.58" fill="#fcfcfc"/>
<rect x="72.54" y="402.27" width="11.63" height="11.58" fill="#fcfcfc"/>
<rect x="84.67" y="402.27" width="11.63" height="11.58" fill="#fcfcfc"/>
<rect x="96.80" y="402.27" width="11.63" height="11.58" fill="#fcfcfc"/>
<rect x="108.93" y="402.27" width="11.63" height="11.58" fill="#fcfcfc"/>
<rect x="121.06" y="402.27" width="11.63" height="11.58" fill="#fcfcfc"/>
<rect x="133.19" y="402.27" width="11.63" height="11.58" fill="#fcfcfc"/>
<rect x="145.32" y="402.27" width="11.63" height="11.58" fill="#f8f8f8"/>
<rect x="157.45" y="402.27" width="11.63" height="11.58" fill="#ffffff"/>
<rect x="169.58" y="402.27" width="11.63" height="11.58" fill="#ffffff"/>
<rect x="181.71" y="402.27" width="11.63" height="11.58" fill="#ffffff"/>
<rect x="193.84" y="402.27" width="11.63" height="11.58" fill="#ffffff"/>
<rect x="205.97" y="402.27" width="11.63" height="11.58" fill="#ffffff"/>
<rect x="218.10" y="402.27" width="11.63" height="11.58" fill="#ffffff"/>
<rect x="230.23" y="402.27" width="11.63" height="11.58" fill="#ffffff"/>
<rect x="36.15" y="414.35" width="11.63" height="11.58" fill="#606060"/>
<rect x="48.28" y="414.35" width="11.63" height="11.58" fill="#484848"/>
<rect x="60.41" y="414.35" width="11.63" height="11.58" fill="#585858"/>
<rect x="72.54" y="414.35" width="11.63" height="11.58" fill="#383838"/>
<rect x="84.67" y="414.35" width="11.63" height="11.58" fill="#484848"/>
<rect x="96.80" y="414.35" width="11.63" height="11.58" fill="#404040"/>
<rect x="108.93" y="414.35" width="11.63" height="11.58" fill="#404040"/>
<rect x="121.06" y="414.35" width="11.63" height="11.58" fill="#808080"/>
<rect x="133.19" y="414.35" width="11.63" height="11.58" fill="#808080"/>
<rect x="145.32" y="414.35" width="11.63" height="11.58" fill="#707070"/>
<rect x="157.45" y="414.35" width="11.63" height="11.58" fill="#686868"/>
<rect x="169.58" y="414.35" width="11.63" height="11.58" fill="#606060"/>
<rect x="181.71" y="414.35" width="11.63" height="11.58" fill="#787878"/>
<rect x="193.84" y="414.35" width="11.63" height="11.58" fill="#101010"/>
<rect x="205.97" y="414.35" width="11.63" height="11.58" fill="#202020"/>
<rect x="218.10" y="414.35" width="11.63" height="11.58" fill="#181818"/>
<rect x="230.23" y="414.35" width="11.63" height="11.58" fill="#282828"/>
<rect x="36.15" y="426.43" width="11.63" height="11.58" fill="#505050"/>
<rect x="48.28" y="426.43" width="11.63" height="11.58" fill="#606060"/>
<rect x="60.41" y="426.43" width="11.63" height="11.58" fill="#383838"/>
<rect x="72.54" y="426.43" width="11.63" height="11.58" fill="#585858"/>
<rect x="84.67" y="426.43" width="11.63" height="11.58" fill="#484848"/>
<rect x="96.80" y="426.43" width="11.63" height="11.58" fill="#505050"/>
<rect x="108.93" y="426.43" width="11.63" height="11.58" fill="#404040"/>
<rect x="121.06" y="426.43" width="11.63" height="11.58" fill="#a8a8a8"/>
<rect x="133.19" y="426.43" width="11.63" height="11.58" fill="#a0a0a0"/>
<rect x="145.32" y="426.43" width="11.63" height="11.58" fill="#888888"/>
<rect x="157.45" y="426.43" width="11.63" height="11.58" fill="#808080"/>
<rect x="169.58" y="426.43" width="11.63" height="11.58" fill="#808080"/>
<rect x="181.71" y="426.43" width="11.63" height="11.58" fill="#909090"/>
<rect x="193.84" y="426.43" width="11.63" height="11.58" fill="#989898"/>
<rect x="205.97" y="426.43" width="11.63" height="11.58" fill="#404040"/>
<rect x="218.10" y="426.43" width="11.63" height="11.58" fill="#202020"/>
<rect x="230.23" y="426.43" width="11.63" height="11.58" fill="#484848"/>
<rect x="36.15" y="438.51" width="11.63" height="11.58" fill="#484848"/>
<rect x="48.28" y="438.51" width="11.63" height="11.58" fill="#303030"/>
<rect x="60.41" y="438.51" width="11.63" height="11.58" fill="#404040"/>
<rect x="72.54" y="438.51" width="11.63" height="11.58" fill="#282828"/>
<rect x="84.67" y="438.51" width="11.63" height="11.58" fill="#303030"/>
<rect x="96.80" y="438.51" width="11.63" height="11.58" fill="#303030"/>
<rect x="108.93" y="438.51" width="11.63" height="11.58" fill="#303030"/>
<rect x="121.06" y="438.51" width="11.63" height="11.58" fill="#686868"/>
<rect x="133.19" y="438.51" width="11.63" height="11.58" fill="#686868"/>
<rect x="145.32" y="438.51" width="11.63" height="11.58" fill="#585858"/>
<rect x="157.45" y="438.51" width="11.63" height="11.58" fill="#505050"/>
<rect x="169.58" y="438.51" width="11.63" height="11.58" fill="#404040"/>
<rect x="181.71" y="438.51" width="11.63" height="11.58" fill="#686868"/>
<rect x="193.84" y="438.51" width="11.63" height="11.58" fill="#000000"/>
<rect x="205.97" y="438.51" width="11.63" height="11.58" fill="#101010"/>
<rect x="218.10" y="438.51" width="11.63" height="11.58" fill="#080808"/>
<rect x="230.23" y="438.51" width="11.63" height="11.58" fill="#181818"/>
<rect x="35.90" y="287.50" width="12.13" height="3.80" fill="#000"/>
<rect x="48.03" y="287.50" width="12.13" height="3.80" fill="#787878"/>
<rect x="60.16" y="287.50" width="12.13" height="3.80" fill="#000"/>
<rect x="72.59" y="287.80" width="11.53" height="3.20" fill="#fff" stroke="#333" stroke-width="0.45"/>
<rect x="84.42" y="287.50" width="12.13" height="3.80" fill="#787878"/>
<rect x="96.55" y="287.50" width="24.26" height="3.80" fill="#000"/>
<rect x="121.11" y="287.80" width="35.79" height="3.20" fill="#fff" stroke="#333" stroke-width="0.45"/>
<rect x="157.20" y="287.50" width="12.13" height="3.80" fill="#787878"/>
<rect x="169.33" y="287.50" width="12.13" height="3.80" fill="#000"/>
<rect x="181.76" y="287.80" width="11.53" height="3.20" fill="#fff" stroke="#333" stroke-width="0.45"/>
<rect x="193.59" y="287.50" width="12.13" height="3.80" fill="#787878"/>
<rect x="205.72" y="287.50" width="12.13" height="3.80" fill="#000"/>
<rect x="217.85" y="287.50" width="24.26" height="3.80" fill="#787878"/>
<text x="17.5" y="285.4" font-family="Liberation Serif, serif" font-weight="bold" font-size="8.9" fill="#000">C.</text>
<text x="245.1" y="300.20" font-family="Liberation Serif, serif" font-size="6.25" fill="#1a1a1a" stroke="#1a1a1a" stroke-width="0.05">pyridoxal 5'-phosphate biosynthesis I</text>
<text x="245.1" y="311.10" font-family="Liberation Serif, serif" font-size="6.25" fill="#1a1a1a" stroke="#1a1a1a" stroke-width="0.05">Bifidobacterium shunt</text>
<text x="245.1" y="323.00" font-family="Liberation Serif, serif" font-size="6.25" fill="#1a1a1a" stroke="#1a1a1a" stroke-width="0.05">superpathway of heme biosynthesis from glycine</text>
<text x="245.1" y="350.10" font-family="Liberation Serif, serif" font-size="6.25" fill="#1a1a1a" stroke="#1a1a1a" stroke-width="0.05">superpathway of menaquinol-6 biosynthesis I</text>
<text x="245.1" y="361.10" font-family="Liberation Serif, serif" font-size="6.25" fill="#1a1a1a" stroke="#1a1a1a" stroke-width="0.05">superpathway of menaquinol-10 biosynthesis</text>
<text x="245.1" y="373.20" font-family="Liberation Serif, serif" font-size="6.25" fill="#1a1a1a" stroke="#1a1a1a" stroke-width="0.05">superpathway of menaquinol-9 biosynthesis</text>
<text x="245.1" y="385.00" font-family="Liberation Serif, serif" font-size="6.25" fill="#1a1a1a" stroke="#1a1a1a" stroke-width="0.05">superpathway of demethylmenaquinol-9 biosynthesis</text>
<text x="245.1" y="396.80" font-family="Liberation Serif, serif" font-size="6.25" fill="#1a1a1a" stroke="#1a1a1a" stroke-width="0.05">superpathway of demethylmenaquinol-6 biosynthesis I</text>
<text x="245.1" y="408.80" font-family="Liberation Serif, serif" font-size="6.25" fill="#1a1a1a" stroke="#1a1a1a" stroke-width="0.05">nitrifier denitrification</text>
<text x="245.1" y="419.70" font-family="Liberation Serif, serif" font-size="6.25" fill="#1a1a1a" stroke="#1a1a1a" stroke-width="0.05">superpathway of tetrahydrofolate biosynthesis</text>
<text x="245.1" y="431.80" font-family="Liberation Serif, serif" font-size="6.25" fill="#1a1a1a" stroke="#1a1a1a" stroke-width="0.05">superpathway of glyoxylate bypass and TCA</text>
<text x="245.1" y="443.70" font-family="Liberation Serif, serif" font-size="6.25" fill="#1a1a1a" stroke="#1a1a1a" stroke-width="0.05">superpathway of tetrahydrofolate biosynthesis and salvage</text>
<text x="245.1" y="332.60" font-family="Liberation Serif, serif" font-size="6.25" fill="#1a1a1a" stroke="#1a1a1a" stroke-width="0.05">superpathway of glycolysis, pyruvate dehydrogenase, TCA,</text>
<text x="245.1" y="339.20" font-family="Liberation Serif, serif" font-size="6.25" fill="#1a1a1a" stroke="#1a1a1a" stroke-width="0.05">and glyoxylate bypass</text>
<defs><linearGradient id="g273" x1="0" x2="1" y1="0" y2="0"><stop offset="0" stop-color="#fff"/><stop offset="1" stop-color="#000"/></linearGradient></defs>
<rect x="252.1" y="273" width="24.5" height="3.7" fill="url(#g273)" stroke="#111" stroke-width="0.5"/>
<text x="264.35" y="271.60" text-anchor="middle" font-family="Liberation Sans, sans-serif" font-size="2.5" fill="#333">abundance (%)</text>
<text x="252.10" y="278.80" text-anchor="middle" font-family="Liberation Sans, sans-serif" font-size="2.4" fill="#333">0.0</text>
<text x="264.35" y="278.80" text-anchor="middle" font-family="Liberation Sans, sans-serif" font-size="2.4" fill="#333">1.1</text>
<text x="276.60" y="278.80" text-anchor="middle" font-family="Liberation Sans, sans-serif" font-size="2.4" fill="#333">4.9</text>
<text transform="translate(42.71,452.00) rotate(-90)" text-anchor="end" font-family="Liberation Sans, sans-serif" font-size="2.3" fill="#707070">11</text>
<text transform="translate(54.84,452.00) rotate(-90)" text-anchor="end" font-family="Liberation Sans, sans-serif" font-size="2.3" fill="#707070">09</text>
<text transform="translate(66.97,452.00) rotate(-90)" text-anchor="end" font-family="Liberation Sans, sans-serif" font-size="2.3" fill="#707070">12</text>
<text transform="translate(79.11,452.00) rotate(-90)" text-anchor="end" font-family="Liberation Sans, sans-serif" font-size="2.3" fill="#707070">05</text>
<text transform="translate(91.23,452.00) rotate(-90)" text-anchor="end" font-family="Liberation Sans, sans-serif" font-size="2.3" fill="#707070">10</text>
<text transform="translate(103.37,452.00) rotate(-90)" text-anchor="end" font-family="Liberation Sans, sans-serif" font-size="2.3" fill="#707070">13</text>
<text transform="translate(115.50,452.00) rotate(-90)" text-anchor="end" font-family="Liberation Sans, sans-serif" font-size="2.3" fill="#707070">14</text>
<text transform="translate(127.62,452.00) rotate(-90)" text-anchor="end" font-family="Liberation Sans, sans-serif" font-size="2.3" fill="#707070">06</text>
<text transform="translate(139.75,452.00) rotate(-90)" text-anchor="end" font-family="Liberation Sans, sans-serif" font-size="2.3" fill="#707070">07</text>
<text transform="translate(151.89,452.00) rotate(-90)" text-anchor="end" font-family="Liberation Sans, sans-serif" font-size="2.3" fill="#707070">08</text>
<text transform="translate(164.02,452.00) rotate(-90)" text-anchor="end" font-family="Liberation Sans, sans-serif" font-size="2.3" fill="#707070">03</text>
<text transform="translate(176.15,452.00) rotate(-90)" text-anchor="end" font-family="Liberation Sans, sans-serif" font-size="2.3" fill="#707070">15</text>
<text transform="translate(188.28,452.00) rotate(-90)" text-anchor="end" font-family="Liberation Sans, sans-serif" font-size="2.3" fill="#707070">17</text>
<text transform="translate(200.41,452.00) rotate(-90)" text-anchor="end" font-family="Liberation Sans, sans-serif" font-size="2.3" fill="#707070">04</text>
<text transform="translate(212.54,452.00) rotate(-90)" text-anchor="end" font-family="Liberation Sans, sans-serif" font-size="2.3" fill="#707070">16</text>
<text transform="translate(224.67,452.00) rotate(-90)" text-anchor="end" font-family="Liberation Sans, sans-serif" font-size="2.3" fill="#707070">01</text>
<text transform="translate(236.80,452.00) rotate(-90)" text-anchor="end" font-family="Liberation Sans, sans-serif" font-size="2.3" fill="#707070">02</text>
<path d="M109.0 274.0L210.0 274.0M109.0 274.0L109.0 278.3M210.0 274.0L210.0 275.5M199.7 275.5L220.0 275.5M199.7 275.5L199.7 286.8M220.0 275.5L220.0 282.8M211.8 282.8L235.5 282.8M211.8 282.8L211.8 286.8M223.9 282.8L223.9 286.8M235.5 282.8L235.5 286.8M62.4 278.3L151.0 278.3M62.4 278.3L62.4 282.3M151.0 278.3L151.0 280.0M42.0 282.3L92.0 282.3M42.0 282.3L42.0 286.8M92.0 282.3L92.0 283.5M54.1 284.0L66.2 284.0M54.1 284.0L54.1 286.8M66.2 284.0L66.2 286.8M78.0 283.5L106.0 283.5M78.0 283.5L78.0 285.0M106.0 283.5L106.0 285.0M78.4 285.0L90.5 285.0M78.4 285.0L78.4 286.8M90.5 285.0L90.5 286.8M102.6 285.0L114.7 285.0M102.6 285.0L102.6 286.8M114.7 285.0L114.7 286.8M133.0 280.0L171.5 280.0M133.0 280.0L133.0 283.0M171.5 280.0L171.5 282.2M126.9 283.0L147.1 283.0M126.9 283.0L126.9 286.8M147.1 283.0L147.1 284.6M139.0 284.6L151.1 284.6M139.0 284.6L139.0 286.8M151.1 284.6L151.1 286.8M163.3 282.2L182.5 282.2M163.3 282.2L163.3 286.8M182.5 282.2L182.5 284.0M175.4 284.0L187.5 284.0M175.4 284.0L175.4 286.8M187.5 284.0L187.5 286.8" stroke="#555" stroke-width="0.5" fill="none"/>
<rect x="44.60" y="514.50" width="203.61" height="24.30" fill="#fff" stroke="#333" stroke-width="0.6"/>
<rect x="45.25" y="515.15" width="11.43" height="11.25" fill="#000000"/>
<rect x="57.18" y="515.15" width="11.43" height="11.25" fill="#e8e8e8"/>
<rect x="69.11" y="515.15" width="11.43" height="11.25" fill="#e0e0e0"/>
<rect x="81.04" y="515.15" width="11.43" height="11.25" fill="#e8e8e8"/>
<rect x="92.97" y="515.15" width="11.43" height="11.25" fill="#a8a8a8"/>
<rect x="104.90" y="515.15" width="11.43" height="11.25" fill="#a0a0a0"/>
<rect x="116.83" y="515.15" width="11.43" height="11.25" fill="#b8b8b8"/>
<rect x="128.76" y="515.15" width="11.43" height="11.25" fill="#b8b8b8"/>
<rect x="140.69" y="515.15" width="11.43" height="11.25" fill="#b0b0b0"/>
<rect x="152.62" y="515.15" width="11.43" height="11.25" fill="#b8b8b8"/>
<rect x="164.55" y="515.15" width="11.43" height="11.25" fill="#707070"/>
<rect x="176.48" y="515.15" width="11.43" height="11.25" fill="#686868"/>
<rect x="188.41" y="515.15" width="11.43" height="11.25" fill="#707070"/>
<rect x="200.34" y="515.15" width="11.43" height="11.25" fill="#888888"/>
<rect x="212.27" y="515.15" width="11.43" height="11.25" fill="#909090"/>
<rect x="224.20" y="515.15" width="11.43" height="11.25" fill="#909090"/>
<rect x="236.13" y="515.15" width="11.43" height="11.25" fill="#909090"/>
<rect x="45.25" y="526.90" width="11.43" height="11.25" fill="#ffffff"/>
<rect x="57.18" y="526.90" width="11.43" height="11.25" fill="#b8b8b8"/>
<rect x="69.11" y="526.90" width="11.43" height="11.25" fill="#b8b8b8"/>
<rect x="81.04" y="526.90" width="11.43" height="11.25" fill="#c0c0c0"/>
<rect x="92.97" y="526.90" width="11.43" height="11.25" fill="#e0e0e0"/>
<rect x="104.90" y="526.90" width="11.43" height="11.25" fill="#e8e8e8"/>
<rect x="116.83" y="526.90" width="11.43" height="11.25" fill="#c8c8c8"/>
<rect x="128.76" y="526.90" width="11.43" height="11.25" fill="#d0d0d0"/>
<rect x="140.69" y="526.90" width="11.43" height="11.25" fill="#d0d0d0"/>
<rect x="152.62" y="526.90" width="11.43" height="11.25" fill="#d0d0d0"/>
<rect x="164.55" y="526.90" width="11.43" height="11.25" fill="#f0f0f0"/>
<rect x="176.48" y="526.90" width="11.43" height="11.25" fill="#f0f0f0"/>
<rect x="188.41" y="526.90" width="11.43" height="11.25" fill="#f0f0f0"/>
<rect x="200.34" y="526.90" width="11.43" height="11.25" fill="#ececec"/>
<rect x="212.27" y="526.90" width="11.43" height="11.25" fill="#ececec"/>
<rect x="224.20" y="526.90" width="11.43" height="11.25" fill="#ececec"/>
<rect x="236.13" y="526.90" width="11.43" height="11.25" fill="#ececec"/>
<rect x="45.00" y="507.40" width="11.93" height="5.00" fill="#000"/>
<rect x="57.23" y="507.70" width="35.19" height="4.40" fill="#fff" stroke="#333" stroke-width="0.45"/>
<rect x="92.72" y="507.40" width="11.93" height="5.00" fill="#000"/>
<rect x="104.65" y="507.40" width="11.93" height="5.00" fill="#969696"/>
<rect x="116.88" y="507.70" width="11.33" height="4.40" fill="#fff" stroke="#333" stroke-width="0.45"/>
<rect x="128.51" y="507.40" width="11.93" height="5.00" fill="#969696"/>
<rect x="140.44" y="507.40" width="23.86" height="5.00" fill="#000"/>
<rect x="164.30" y="507.40" width="35.79" height="5.00" fill="#969696"/>
<rect x="200.09" y="507.40" width="11.93" height="5.00" fill="#000"/>
<rect x="212.02" y="507.40" width="11.93" height="5.00" fill="#969696"/>
<rect x="223.95" y="507.40" width="11.93" height="5.00" fill="#000"/>
<rect x="236.18" y="507.70" width="11.33" height="4.40" fill="#fff" stroke="#333" stroke-width="0.45"/>
<text x="17.7" y="471.3" font-family="Liberation Serif, serif" font-weight="bold" font-size="8.9" fill="#000">D.</text>
<text x="250.9" y="525.20" font-family="Liberation Serif, serif" font-size="6.25" fill="#1a1a1a" stroke="#1a1a1a" stroke-width="0.05">Methane metabolism</text>
<text x="250.9" y="534.30" font-family="Liberation Serif, serif" font-size="6.25" fill="#1a1a1a" stroke="#1a1a1a" stroke-width="0.05">Biotin metabolism</text>
<defs><linearGradient id="g476" x1="0" x2="1" y1="0" y2="0"><stop offset="0" stop-color="#fff"/><stop offset="1" stop-color="#000"/></linearGradient></defs>
<rect x="263" y="476" width="25.6" height="5.2" fill="url(#g476)" stroke="#111" stroke-width="0.5"/>
<text x="275.80" y="474.00" text-anchor="middle" font-family="Liberation Sans, sans-serif" font-size="3.2" fill="#333">abundance (%)</text>
<text x="263.00" y="485.20" text-anchor="middle" font-family="Liberation Sans, sans-serif" font-size="2.8" fill="#333">0.4</text>
<text x="275.80" y="485.20" text-anchor="middle" font-family="Liberation Sans, sans-serif" font-size="2.8" fill="#333">0.8</text>
<text x="288.60" y="485.20" text-anchor="middle" font-family="Liberation Sans, sans-serif" font-size="2.8" fill="#333">1.2</text>
<text transform="translate(51.72,540.90) rotate(-90)" text-anchor="end" font-family="Liberation Sans, sans-serif" font-size="2.3" fill="#707070">S01</text>
<text transform="translate(63.64,540.90) rotate(-90)" text-anchor="end" font-family="Liberation Sans, sans-serif" font-size="2.3" fill="#707070">S05</text>
<text transform="translate(75.58,540.90) rotate(-90)" text-anchor="end" font-family="Liberation Sans, sans-serif" font-size="2.3" fill="#707070">S06</text>
<text transform="translate(87.50,540.90) rotate(-90)" text-anchor="end" font-family="Liberation Sans, sans-serif" font-size="2.3" fill="#707070">S07</text>
<text transform="translate(99.44,540.90) rotate(-90)" text-anchor="end" font-family="Liberation Sans, sans-serif" font-size="2.3" fill="#707070">S11</text>
<text transform="translate(111.36,540.90) rotate(-90)" text-anchor="end" font-family="Liberation Sans, sans-serif" font-size="2.3" fill="#707070">S09</text>
<text transform="translate(123.30,540.90) rotate(-90)" text-anchor="end" font-family="Liberation Sans, sans-serif" font-size="2.3" fill="#707070">S08</text>
<text transform="translate(135.22,540.90) rotate(-90)" text-anchor="end" font-family="Liberation Sans, sans-serif" font-size="2.3" fill="#707070">S10</text>
<text transform="translate(147.16,540.90) rotate(-90)" text-anchor="end" font-family="Liberation Sans, sans-serif" font-size="2.3" fill="#707070">S12</text>
<text transform="translate(159.08,540.90) rotate(-90)" text-anchor="end" font-family="Liberation Sans, sans-serif" font-size="2.3" fill="#707070">S13</text>
<text transform="translate(171.01,540.90) rotate(-90)" text-anchor="end" font-family="Liberation Sans, sans-serif" font-size="2.3" fill="#707070">S03</text>
<text transform="translate(182.94,540.90) rotate(-90)" text-anchor="end" font-family="Liberation Sans, sans-serif" font-size="2.3" fill="#707070">S04</text>
<text transform="translate(194.88,540.90) rotate(-90)" text-anchor="end" font-family="Liberation Sans, sans-serif" font-size="2.3" fill="#707070">S02</text>
<text transform="translate(206.81,540.90) rotate(-90)" text-anchor="end" font-family="Liberation Sans, sans-serif" font-size="2.3" fill="#707070">S14</text>
<text transform="translate(218.73,540.90) rotate(-90)" text-anchor="end" font-family="Liberation Sans, sans-serif" font-size="2.3" fill="#707070">S15</text>
<text transform="translate(230.66,540.90) rotate(-90)" text-anchor="end" font-family="Liberation Sans, sans-serif" font-size="2.3" fill="#707070">S16</text>
<text transform="translate(242.59,540.90) rotate(-90)" text-anchor="end" font-family="Liberation Sans, sans-serif" font-size="2.3" fill="#707070">S17</text>
<path d="M50.8 505.2L50.8 468.0M50.8 468.0L116.2 468.0M116.2 468.0L116.2 483.6M71.9 483.6L159.7 483.6M71.9 483.6L71.9 502.0M159.7 483.6L159.7 492.3M63.0 502.0L80.5 502.0M63.0 502.0L63.0 505.2M80.5 502.0L80.5 503.9M74.6 503.9L86.5 503.9M74.6 503.9L74.6 505.2M86.5 503.9L86.5 505.2M119.0 492.3L201.6 492.3M119.0 492.3L119.0 499.3M201.6 492.3L201.6 495.0M104.9 499.3L133.2 499.3M104.9 499.3L104.9 502.5M98.9 502.5L110.3 502.5M98.9 502.5L98.9 505.2M110.3 502.5L110.3 505.2M133.2 499.3L133.2 501.2M122.4 501.2L143.0 501.2M122.4 501.2L122.4 505.2M143.0 501.2L143.0 503.0M134.6 503.0L151.0 503.0M134.6 503.0L134.6 505.2M151.0 503.0L151.0 504.0M146.0 504.0L158.0 504.0M146.0 504.0L146.0 505.2M158.0 504.0L158.0 505.2M179.2 495.0L223.8 495.0M179.2 495.0L179.2 502.5M223.8 495.0L223.8 500.6M170.3 502.5L191.4 502.5M170.3 502.5L170.3 505.2M191.4 502.5L191.4 503.6M182.0 503.6L194.0 503.6M182.0 503.6L182.0 505.2M194.0 503.6L194.0 505.2M211.6 500.6L236.0 500.6M211.6 500.6L211.6 503.0M205.7 503.0L218.4 503.0M205.7 503.0L205.7 505.2M218.4 503.0L218.4 505.2M236.0 500.6L236.0 502.0M229.2 502.0L241.4 502.0M229.2 502.0L229.2 505.2M241.4 502.0L241.4 505.2" stroke="#444" stroke-width="0.55" fill="none"/>
</svg>
</body></html>
